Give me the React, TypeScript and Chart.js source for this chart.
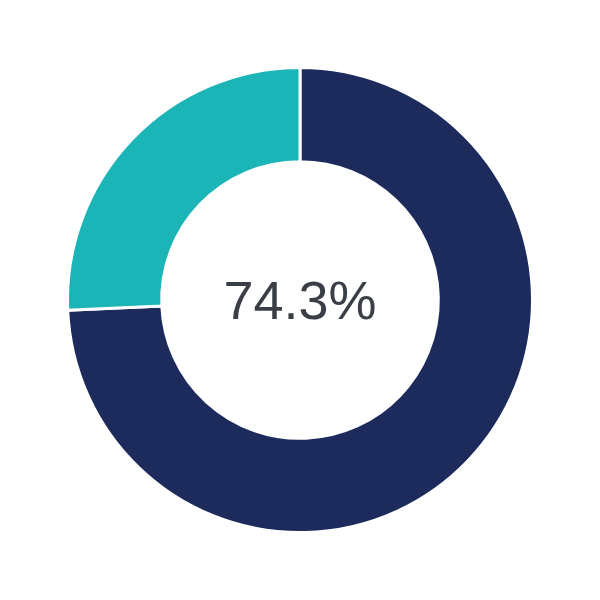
import React, { useEffect, useRef } from 'react';
import { Chart, registerables } from 'chart.js';

Chart.register(...registerables);

const labels = ['Share', 'Remainder'];
const values = [74.3, 25.7];
const colors = ['#1c2b5b', '#1bb5b8'];
const centerLabel = '74.3%';

const App: React.FC = () => {
  const canvasRef = useRef<HTMLCanvasElement>(null);
  const chartRef = useRef<Chart | null>(null);

  useEffect(() => {
    if (!canvasRef.current) return;
    if (chartRef.current) chartRef.current.destroy();

    chartRef.current = new Chart(canvasRef.current, {
      type: 'doughnut',
      data: {
        labels,
        datasets: [{
          data: values,
          backgroundColor: colors,
          borderColor: '#ffffff',
          borderWidth: 3,
          hoverOffset: 0,
        }],
      },
      options: {
        responsive: true,
        maintainAspectRatio: false,
        animation: false,
        cutout: '59.5%',
        layout: { padding: 58 },
        plugins: {
          legend: { display: false },
          tooltip: { enabled: false },
        },
      },
    });

    return () => {
      chartRef.current?.destroy();
      chartRef.current = null;
    };
  }, []);

  return (
    <div style={{ position: 'relative', width: 584, height: 584 }}>
      <canvas ref={canvasRef}></canvas>
      <div
        style={{
          position: 'absolute',
          left: 0,
          top: 0,
          width: '100%',
          height: '100%',
          display: 'flex',
          alignItems: 'center',
          justifyContent: 'center',
          fontFamily: '"Liberation Sans", Arial, sans-serif',
          fontSize: 54,
          color: '#3a3f47',
          pointerEvents: 'none',
        }}
      >
        {centerLabel}
      </div>
    </div>
  );
};

export default App;
